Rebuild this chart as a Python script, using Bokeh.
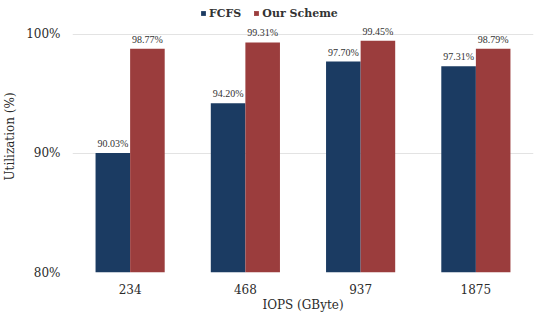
from bokeh.plotting import figure
from bokeh.models import (ColumnDataSource, FactorRange, Range1d, LabelSet, Legend,
                          LegendItem, FixedTicker, NumeralTickFormatter)
from bokeh.transform import dodge
from bokeh.embed import file_html
from bokeh.resources import INLINE

categories = ["234", "468", "937", "1875"]
fcfs = [90.03, 94.20, 97.70, 97.31]
ours = [98.77, 99.31, 99.45, 98.79]
y_ticks = [0.8, 0.9, 1.0]

FONT = "DejaVu Serif"
C_FCFS = "#1B3B62"
C_OURS = "#9B3D3D"

src = ColumnDataSource(dict(
    cat=categories,
    fcfs=[v / 100 for v in fcfs],
    ours=[v / 100 for v in ours],
    fcfs_lbl=[f"{v:.2f}%" for v in fcfs],
    ours_lbl=[f"{v:.2f}%" for v in ours],
))

p = figure(x_range=FactorRange(*categories), y_range=Range1d(0.8, 1.0283),
           width=534, height=314, output_backend="svg", toolbar_location=None,
           min_border_left=64, min_border_right=1, min_border_top=0, min_border_bottom=36)

r1 = p.vbar(x=dodge("cat", -0.15, range=p.x_range), top="fcfs", bottom=0.8, width=0.3,
            source=src, color=C_FCFS, line_color=None)
r2 = p.vbar(x=dodge("cat", 0.15, range=p.x_range), top="ours", bottom=0.8, width=0.3,
            source=src, color=C_OURS, line_color=None)

for col, off in (("fcfs", -0.15), ("ours", 0.15)):
    lbl = LabelSet(x=dodge("cat", off, range=p.x_range), y=col, text=col + "_lbl",
                   source=src, text_align="center", text_baseline="bottom",
                   y_offset=4, text_font_size="10px", text_font=FONT, text_color="#333333")
    p.add_layout(lbl)

legend = Legend(items=[LegendItem(label="FCFS", renderers=[r1]),
                       LegendItem(label="Our Scheme", renderers=[r2])],
                orientation="horizontal", location=(128, 252),
                label_text_font=FONT, label_text_font_size="11px",
                label_text_font_style="bold", label_text_color="#333333",
                glyph_width=6, glyph_height=6, label_standoff=3, spacing=12,
                label_height=14, padding=1, margin=0,
                border_line_color=None, background_fill_alpha=0)
p.add_layout(legend, "center")

p.outline_line_color = None
p.xgrid.grid_line_color = None
p.ygrid.grid_line_color = "#e3e3e3"
p.ygrid.grid_line_width = 1

p.yaxis.ticker = FixedTicker(ticks=y_ticks)
p.yaxis.formatter = NumeralTickFormatter(format="0%")
for ax in (p.xaxis[0], p.yaxis[0]):
    ax.axis_line_color = None
    ax.major_tick_line_color = None
    ax.minor_tick_line_color = None
    ax.major_label_text_font = FONT
    ax.major_label_text_font_size = "12px"
    ax.major_label_text_color = "#2b2b2b"
    ax.axis_label_text_font = FONT
    ax.axis_label_text_font_size = "12px"
    ax.axis_label_text_font_style = "normal"
    ax.axis_label_text_color = "#2b2b2b"

p.xaxis.axis_label = "IOPS (GByte)"
p.yaxis.axis_label = "Utilization (%)"
p.xaxis.major_label_standoff = 5
p.xaxis.axis_label_standoff = 1
p.yaxis.major_label_standoff = 6
p.yaxis.axis_label_standoff = 6

open("out.html", "w").write(file_html(p, INLINE))
